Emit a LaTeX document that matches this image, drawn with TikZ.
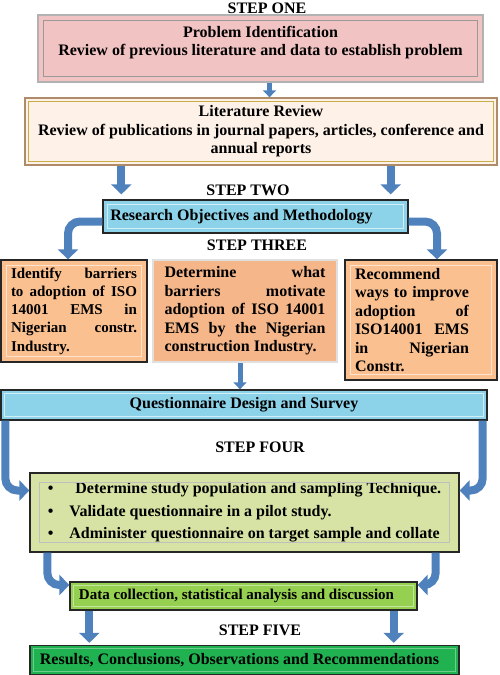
\documentclass[tikz,border=0pt]{standalone}
\usepackage{fontspec}
\setmainfont{Liberation Serif}
\usepackage{tikz}
\usetikzlibrary{arrows.meta,positioning,calc}

% Colours of the boxes and arrows
\definecolor{pinkbox}{RGB}{242,195,195}
\definecolor{peachbox}{RGB}{253,241,232}
\definecolor{peachline}{RGB}{175,140,105}
\definecolor{bluebox}{RGB}{140,210,232}
\definecolor{orangebox}{RGB}{250,192,144}
\definecolor{orangemid}{RGB}{245,182,138}
\definecolor{olivebox}{RGB}{214,227,164}
\definecolor{limebox}{RGB}{150,208,80}
\definecolor{greenbox}{RGB}{32,178,80}
\definecolor{arrowblue}{RGB}{79,129,189}

\def\boxfont{\bfseries\fontsize{16}{18.5}\selectfont}     %text of most boxes
\def\smallfont{\bfseries\fontsize{15}{18.3}\selectfont}   %text of the narrow boxes

\tikzset{
  box/.style={draw=black!85, line width=1.3pt, inner sep=0pt, align=center, font=\boxfont},
  boxtext/.style={inner sep=0pt, align=center, font=\boxfont},
  steplabel/.style={inner sep=0pt, font=\boxfont},
  bigarrow/.style={arrowblue, line width=8pt, rounded corners=12pt,
    -{Triangle[width=20pt,length=10pt]}},
  smallarrow/.style={arrowblue, line width=5pt,
    -{Triangle[width=13pt,length=7pt]}}
}

% inner frame of a box: node, inset, line options
\newcommand\innerframe[3]{\draw[#3] ([shift={(#2,-#2)}]#1.north west) rectangle ([shift={(-#2,#2)}]#1.south east);}

\begin{document}
\begin{tikzpicture}[x=1pt,y=-1pt,thick]
% Canvas as in the reference (500 x 675)
\useasboundingbox (0,0) rectangle (500,675);

% STEP ONE
\node[steplabel] (s1) at (267,8) {STEP ONE};
\node[box, fill=pinkbox, draw=black!30, minimum width=445pt, minimum height=67pt] (prob) at (260.5,48.5) {};
\innerframe{prob}{6pt}{black!40, line width=0.8pt}
\node[boxtext] (probtext) at ([yshift=6pt]prob.center)
  {Problem Identification\\Review of previous literature and data to establish problem};

\node[box, fill=peachbox, draw=peachline, minimum width=472pt, minimum height=67pt] (lit) at (261,131.5)
  {Literature Review\\Review of publications in journal papers, articles, conference and\\annual reports};
\innerframe{lit}{4pt}{peachline!70!yellow, line width=0.8pt}

\coordinate (a0) at ([xshift=9pt]prob.south);
\draw[smallarrow] (a0) -- (a0 |- lit.north);

% STEP TWO
\node[steplabel] (s2) at (248,190) {STEP TWO};
\node[box, fill=bluebox, minimum width=305pt, minimum height=33pt] (rob) at (255.5,216.5) {};
\innerframe{rob}{5pt}{white!60!bluebox, line width=0.8pt}
\node[boxtext] (robtext) at ([xshift=-14pt]rob.center) {Research Objectives and Methodology};

% Define coordinates.
    \coordinate (a1) at ([xshift=19pt]rob.north west);
    \coordinate (a2) at ([xshift=-18pt]rob.north east);

\draw[bigarrow] (a1 |- lit.south) -- ([yshift=5pt]a1);
\draw[bigarrow] (a2 |- lit.south) -- ([yshift=5pt]a2);

% STEP THREE
\node[steplabel] (s3) at (257,245) {STEP THREE};
\node[box, fill=orangebox, minimum width=146pt, minimum height=102pt, text width=126pt, align=justify, font=\smallfont] (bar1) at (74,311)
  {Identify barriers\linebreak to adoption of ISO\linebreak 14001 EMS in\linebreak Nigerian constr.\linebreak Industry.};
\innerframe{bar1}{6pt}{white!55!orangebox, line width=0.8pt}

\node[box, fill=orangemid, draw=black!12, line width=2pt, minimum width=184pt, minimum height=102pt, text width=161pt, align=justify] (bar2) at (245,311)
  {Determine what\linebreak barriers motivate\linebreak adoption of ISO 14001\linebreak EMS by the Nigerian\linebreak construction Industry.};

\node[box, fill=orangebox, minimum width=152pt, minimum height=120pt] (bar3) at (421,320) {};
\innerframe{bar3}{6pt}{white!55!orangebox, line width=0.8pt}
\node[boxtext, text width=114pt, align=justify] (bar3text) at ([xshift=-9pt]bar3.center)
  {Recommend\linebreak ways to improve\linebreak adoption of\linebreak ISO14001 EMS\linebreak in Nigerian\linebreak Constr.};

\draw[bigarrow] ([yshift=-5pt]rob.west) -| ([xshift=-6pt]bar1.north);
\draw[bigarrow] ([yshift=-5pt]rob.east) -| ([xshift=16pt]bar3.north);

% Questionnaire
\node[box, fill=bluebox, minimum width=486pt, minimum height=30pt] (qds) at (244,405)
  {Questionnaire Design and Survey};
\innerframe{qds}{4pt}{white!60!bluebox, line width=0.8pt}

\coordinate (a3) at ([xshift=-5pt]bar2.south);
\draw[smallarrow] (a3) -- (a3 |- qds.north);

% STEP FOUR
\node[steplabel] (s4) at (260,447) {STEP FOUR};
\node[box, fill=olivebox, minimum width=429pt, minimum height=79pt, align=left] (sfour) at (244.5,512.5)
  {\textbullet\hspace{22pt}Determine study population and sampling Technique.\\[4pt]
   \textbullet\hspace{16pt}Validate questionnaire in a pilot study.\\[4pt]
   \textbullet\hspace{16pt}Administer questionnaire on target sample and collate};
\innerframe{sfour}{10pt}{black!25, line width=0.8pt}

\draw[bigarrow] ([xshift=5pt]qds.south west) |- ([yshift=22pt]sfour.west);
\draw[bigarrow] ([xshift=-5pt]qds.south east) |- ([yshift=22pt]sfour.east);

% Data collection
\node[box, fill=limebox, minimum width=347pt, minimum height=28pt, font=\smallfont] (dcs) at (243.5,596) {};
\innerframe{dcs}{4pt}{white!45!limebox, line width=0.8pt}
\node[boxtext, font=\smallfont] (dcstext) at ([xshift=-7pt]dcs.center) {Data collection, statistical analysis and discussion};

\draw[bigarrow] ([xshift=18pt]sfour.south west) |- ([yshift=11pt]dcs.west);
\draw[bigarrow] ([xshift=-24pt]sfour.south east) |- ([yshift=11pt]dcs.east);

% STEP FIVE
\node[steplabel] (s5) at (260,630) {STEP FIVE};
\node[box, fill=greenbox, minimum width=429pt, minimum height=29pt] (res) at (244.5,660) {};
\innerframe{res}{4pt}{white!35!greenbox, line width=0.8pt}
\node[boxtext] (restext) at ([xshift=-5pt]res.center) {Results, Conclusions, Observations and Recommendations};

\draw[bigarrow] ([xshift=20pt]dcs.south west) -- ([xshift=20pt,yshift=2pt]dcs.south west |- res.north);
\draw[bigarrow] ([xshift=-24pt]dcs.south east) -- ([xshift=-24pt,yshift=2pt]dcs.south east |- res.north);

\end{tikzpicture}
\end{document}
